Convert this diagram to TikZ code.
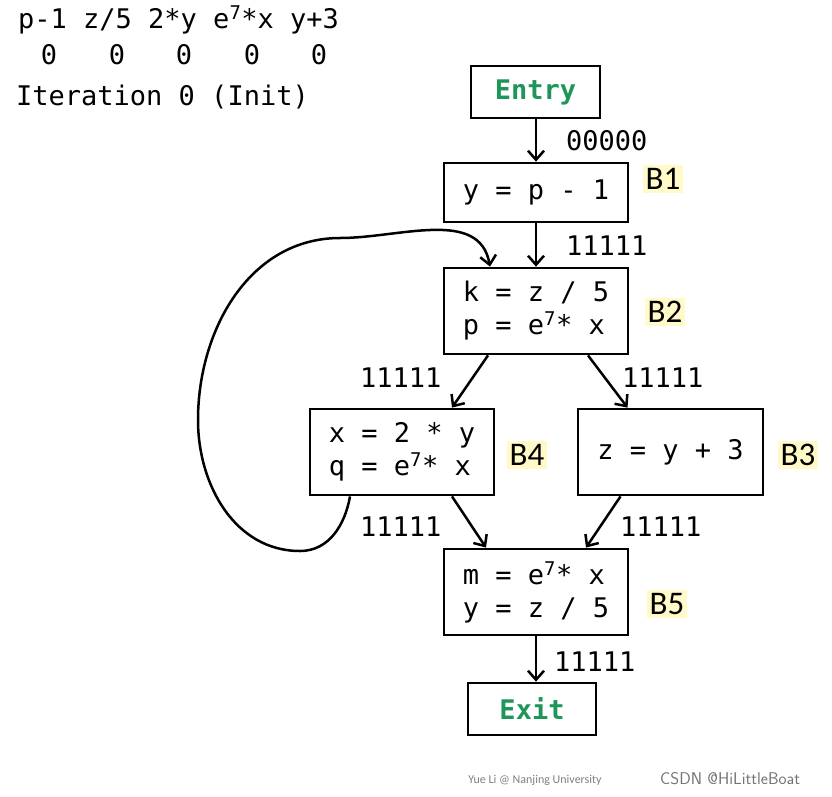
\documentclass[tikz,border=0pt]{standalone}
\usepackage{fontspec}
\setmainfont{Carlito}
\setmonofont{DejaVu Sans Mono}
\usetikzlibrary{arrows.meta}
\definecolor{grn}{RGB}{30,150,90}
\definecolor{yel}{RGB}{255,250,200}
\begin{document}
\begin{tikzpicture}[x=1pt,y=-1pt,
  every node/.style={inner sep=0pt},
  mono/.style={font=\fontsize{27}{33}\selectfont\ttfamily},
  blk/.style={draw,line width=2.8pt,minimum width=184pt,mono,align=left},
  bl/.style={fill=yel,inner sep=3pt,font=\fontsize{33}{36}\selectfont},
  lab/.style={mono,anchor=west},
  arr/.style={-{Straight Barb[length=9pt,width=16pt,line width=2.5pt]},line width=2.5pt},
  ]
\useasboundingbox (0,0) rectangle (832,796);
\node[mono,anchor=west] (hdr) at (18,20) {p-1 z/5 2*y e\textsuperscript{7}*x y+3};
\foreach \x/\n in {49/a,117/b,184/c,252/d,319/e} \node[mono] (z\n) at (\x,55) {0};
\node[mono,anchor=west] (it) at (16,97) {Iteration 0 (Init)};

\node[blk,minimum width=129pt,minimum height=52pt,font=\fontsize{27}{33}\selectfont\ttfamily\bfseries,text=grn,align=center] (entry) at (535.5,92) {Entry};
\node[blk,minimum height=59pt] (b1) at (536,192.5) {y = p - 1};
\node[blk,minimum height=86pt] (b2) at (536,311) {k = z / 5\\p = e\textsuperscript{7}* x};
\node[blk,minimum height=86pt] (b4) at (402,452) {x = 2 * y\\q = e\textsuperscript{7}* x};
\node[blk,minimum width=185pt,minimum height=86pt] (b3) at (670.5,452) {z = y + 3};
\node[blk,minimum height=86pt] (b5) at (536,592) {m = e\textsuperscript{7}* x\\y = z / 5};
\node[blk,minimum width=128pt,minimum height=52pt,font=\fontsize{27}{33}\selectfont\ttfamily\bfseries,text=grn,align=center] (exit) at (532,709) {Exit};

\node[bl] (l1) at (663,179) {B1};
\node[bl] (l2) at (665,312) {B2};
\node[bl] (l4) at (527,455) {B4};
\node[bl] (l3) at (798,455) {B3};
\node[bl] (l5) at (667,604) {B5};

\node[lab] (e0) at (566,141) {00000};
\node[lab] (e1) at (566,246) {11111};
\node[lab] (e2) at (360,378) {11111};
\node[lab] (e3) at (622,378) {11111};
\node[lab] (e4) at (360,527) {11111};
\node[lab] (e5) at (620,527) {11111};
\node[lab] (e6) at (554,662) {11111};

\draw[arr] (entry.south -| 536,0) -- (b1.north -| 536,0);
\draw[arr] (b1) -- (b2);
\draw[arr] ([xshift=-48pt]b2.south) -- ([xshift=50pt]b4.north);
\draw[arr] ([xshift=52pt]b2.south) -- ([xshift=-43pt]b3.north);
\draw[arr] ([xshift=50pt]b4.south) -- ([xshift=-50pt]b5.north);
\draw[arr] ([xshift=-50pt]b3.south) -- ([xshift=50pt]b5.north);
\draw[arr] (b5) -- (b5 |- exit.north);
\draw[arr] ([xshift=-52pt]b4.south) to[out=-100,in=0] (300,551) to[out=180,in=-90] (198,420) to[out=90,in=180] (340,238) to[out=0,in=100] ([xshift=-46pt]b2.north);

\node[text=gray,font=\fontsize{12}{14}\selectfont] (f1) at (535,780) {Yue Li @ Nanjing University};
\node[text=gray!90!black,font=\fontsize{17}{20}\selectfont\sffamily,anchor=west] (f2) at (660,779) {CSDN @HiLittleBoat};
\end{tikzpicture}
\end{document}
